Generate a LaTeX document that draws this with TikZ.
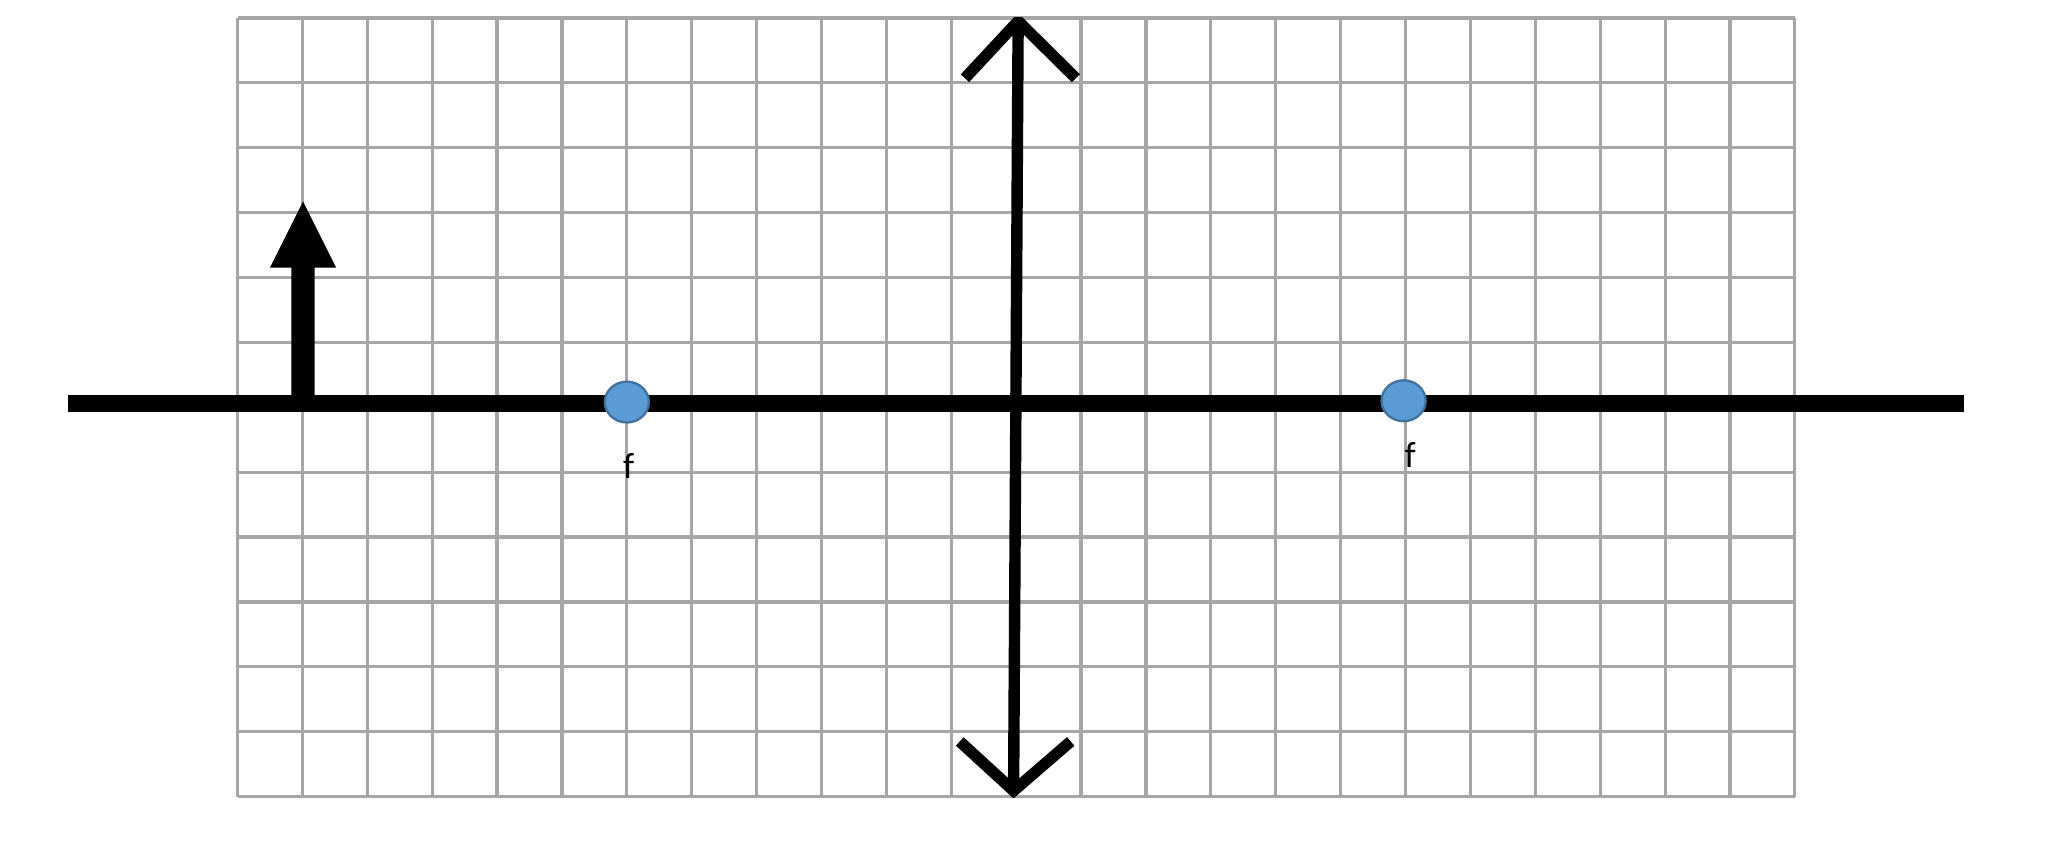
\documentclass[tikz,border=0pt]{standalone}
\usepackage{fontspec}
\setmainfont{Carlito}
\usetikzlibrary{shapes.geometric}
\definecolor{gridgray}{HTML}{A6A6A6}
\definecolor{focfill}{HTML}{5B9BD5}
\definecolor{focdraw}{HTML}{41719C}
\tikzset{
  gridline/.style={draw=gridgray, line width=1.4pt},
  axisline/.style={draw=black, line width=7.2pt},
  lensline/.style={draw=black, line width=5pt, line cap=butt},
  focpoint/.style={ellipse, fill=focfill, draw=focdraw, line width=1pt, minimum width=0.68cm, minimum height=0.63cm, inner sep=0pt},
  flabel/.style={font=\fontsize{16}{19}\selectfont, inner sep=0pt, anchor=center}
}
\begin{document}
\begin{tikzpicture}
\useasboundingbox (-3.66,-0.945) rectangle (27.87,12.276);
% grid
\draw[gridline] (0,0) grid (24,12);
% axis
\coordinate (axL) at (-2.61,6.06);
\coordinate (axR) at (26.6,6.06);
\draw[axisline] (axL) -- (axR);
% object arrow
\fill[black] (0.83,6.06) -- (0.83,8.15) -- (0.5,8.15) -- (1.01,9.17) -- (1.52,8.15) -- (1.19,8.15) -- (1.19,6.06) -- cycle;
% lens
\coordinate (lt) at (12.03,11.95);
\coordinate (lb) at (11.96,0.09);
\draw[lensline] (lt) -- (lb);
\draw[lensline, line join=bevel] (11.21,11.07) -- (lt) -- (12.92,11.07);
\draw[lensline, line join=miter] (11.13,0.85) -- (lb) -- (12.84,0.85);
% focal points
\node[focpoint] (F1) at (6.0,6.08) {};
\node[focpoint] (F2) at (17.97,6.1) {};
\node[flabel] (f1) at (6.03,5.09) {f};
\node[flabel] (f2) at (18.07,5.27) {f};
\end{tikzpicture}
\end{document}
